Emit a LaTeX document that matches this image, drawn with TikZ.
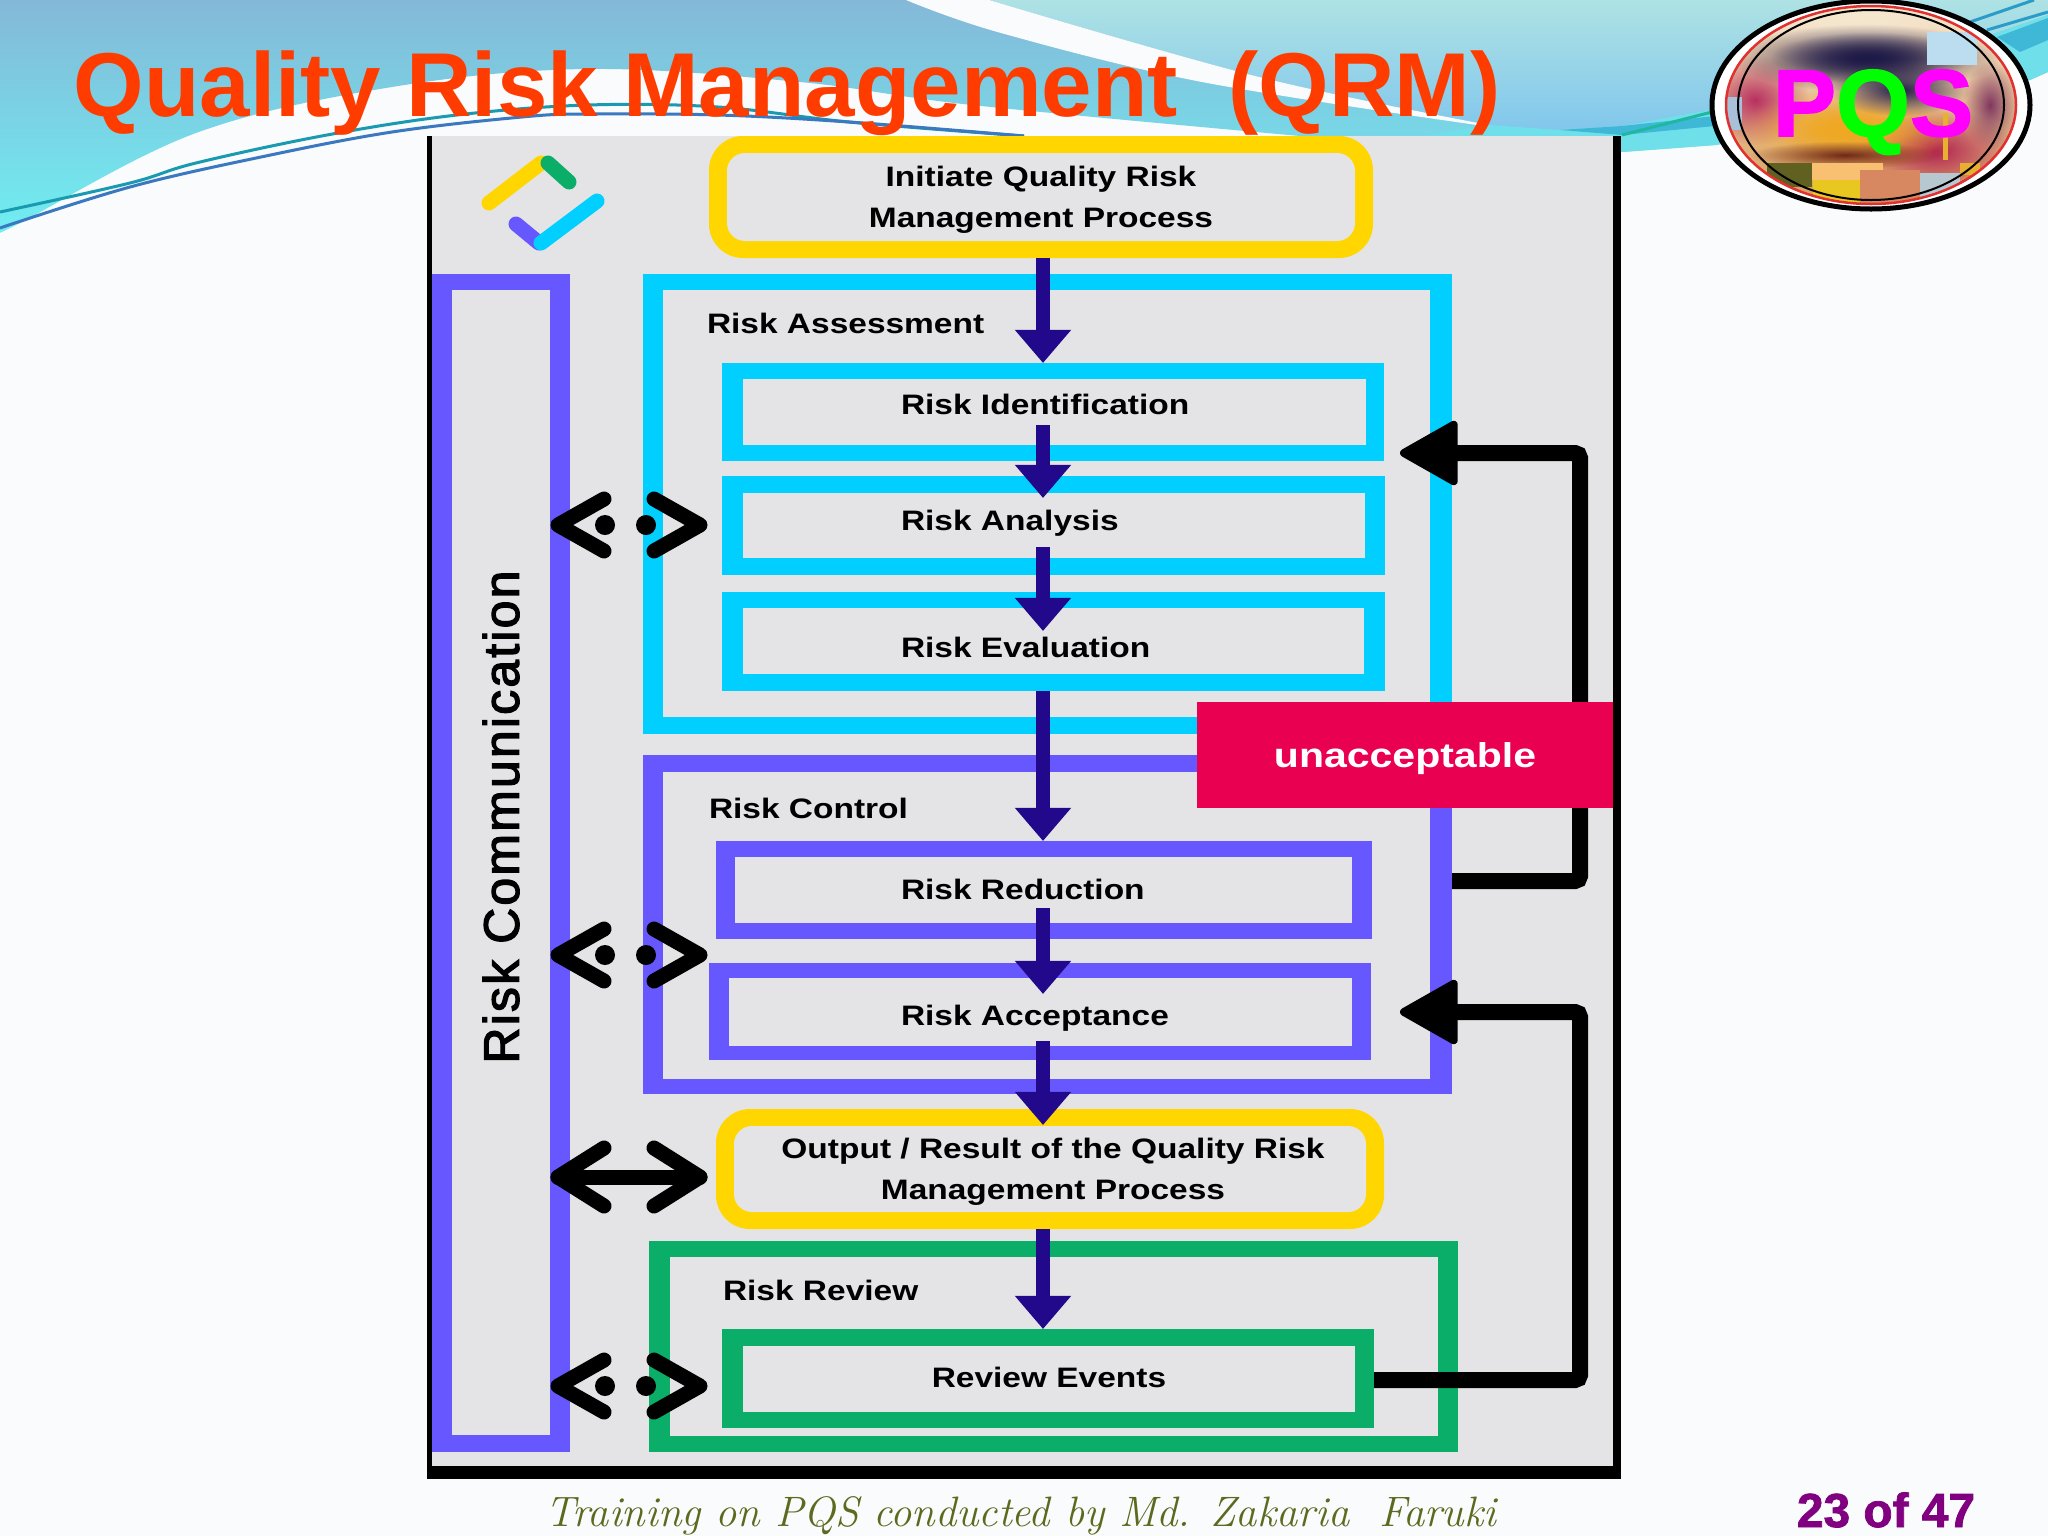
\documentclass[tikz,border=0pt]{standalone}
\usepackage{fontspec}
\usetikzlibrary{arrows.meta,calc,fadings}
\newfontfamily\arialish{Liberation Sans}
\newfontfamily\heavyfont[FakeBold=1.6]{Liberation Sans}
\newfontfamily\commfont[FakeBold=2.5,LetterSpace=4.4]{Liberation Sans}
\newfontfamily\lblfont[FakeStretch=1.19]{Liberation Sans}
\definecolor{qpurple}{HTML}{6658FE}
\definecolor{qblue}{HTML}{00CFFF}
\definecolor{qgreen}{HTML}{0AAE68}
\definecolor{qyellow}{HTML}{FFD600}
\definecolor{qred}{HTML}{EA0050}
\definecolor{qgray}{HTML}{E4E4E6}
\definecolor{qindigo}{HTML}{22098C}
\definecolor{qtitle}{HTML}{FF3C00}
\definecolor{qpage}{HTML}{F9FBFC}
\newcommand\hx[1]{\definecolor{x#1}{HTML}{#1}}
\hx{84B8D8}\hx{6FF0F2}\hx{AEE2E4}\hx{80C6EC}\hx{6FE0EA}\hx{3FB8D8}\hx{1FB89E}\hx{2A9CC8}\hx{1A9AB0}\hx{3A78C0}
\hx{F7E6D0}\hx{B04A68}\hx{D89A58}\hx{F5E8D0}\hx{B02050}\hx{B83060}\hx{F0A820}\hx{702818}\hx{1E1A48}\hx{803860}
\hx{BCDCF0}\hx{A8C0D8}\hx{606020}\hx{F8C070}\hx{E8C820}\hx{D88860}\hx{B8C8D0}\hx{E8B030}\hx{E03030}\hx{5A6B1F}\hx{800080}
\tikzfading[name=softblob, inner color=transparent!0, outer color=transparent!100]
\tikzset{
  frame/.style={rectangle,inner sep=0pt,outer sep=0pt,anchor=center},
  lbl/.style={inner sep=0pt,outer sep=0pt,text=black,font=\lblfont\bfseries\fontsize{8}{11.7}\selectfont,align=center},
  lblw/.style={lbl,anchor=west},
  flow/.style={draw=qindigo,line width=0.14cm,-{Triangle[length=0.33cm,width=0.54cm]}},
  feedback/.style={draw=black,line width=0.16cm,rounded corners=0.05cm,-{Triangle[round,line width=0.08cm,length=0.62cm,width=0.68cm]}},
  chev/.style={draw=black,line width=0.15cm,line cap=round,line join=round},
  blob/.style={path fading=softblob},
  logoline/.style={line width=0.15cm,line cap=round}
}
% name, colour, outer x1 y1 x2 y2, then inner x1 y1 x2 y2
\newcommand\qbox[6]{%
  \node[frame,fill=#2,minimum width={(#5-#3)*0.01cm},minimum height={(#6-#4)*0.01cm}] (#1) at ({(#3+#5)/2},{(#4+#6)/2}) {};%
  \qinner{#1}}
\newcommand\qinner[5]{%
  \node[frame,fill=qgray,minimum width={(#4-#2)*0.01cm},minimum height={(#5-#3)*0.01cm}] (#1in) at ({(#2+#4)/2},{(#3+#5)/2}) {};}
\newcommand\qround[5]{%
  \node[frame,fill=qyellow,rounded corners=0.34cm,minimum width={(#4-#2)*0.01cm},minimum height={(#5-#3)*0.01cm}] (#1) at ({(#2+#4)/2},{(#3+#5)/2}) {};%
  \node[frame,fill=qgray,rounded corners=0.18cm,minimum width={(#4-#2-36)*0.01cm},minimum height={(#5-#3-34)*0.01cm}] (#1in) at ({(#2+#4)/2},{(#3+#5)/2}) {};}
\newcommand\chevs[3]{%
  \draw[chev] ($(#1)+(46,-#3)$) -- (#1) -- ($(#1)+(46,#3)$);%
  \draw[chev] ($(#2)+(-46,-#3)$) -- (#2) -- ($(#2)+(-46,#3)$);}
\newcommand\commlink[2]{%
  \coordinate (#1l) at (558,#2);\coordinate (#1r) at (700,#2);%
  \chevs{#1l}{#1r}{26}%
  \fill[black] ($(#1l)+(47,0)$) circle[radius=10];%
  \fill[black] ($(#1r)+(-54,0)$) circle[radius=10];}
\begin{document}
\begin{tikzpicture}[x=0.01cm,y=-0.01cm]
\useasboundingbox (0,0) rectangle (2048,1536);
\fill[qpage] (0,0) rectangle (2048,1536);
% banner
\shade[top color=x84B8D8,bottom color=x6FF0F2]
  (0,0) -- (2048,0) -- (2048,72) -- (2030,80) -- (1716,145) -- (1622,152) -- (1400,140) -- (1300,136)
  -- plot[smooth,tension=.6] coordinates {(1300,136) (972,105) (800,82) (588,69) (392,87) (196,133) (20,223) (0,232)} -- cycle;
% light part right of the swoosh
\shade[top color=xAEE2E4,bottom color=x80C6EC]
  (989,0) -- plot[smooth,tension=.6] coordinates {(989,0) (1259,77) (1489,125) (1560,130) (1622,126) (1710,110)} -- (1990,35) -- (2048,15) -- (2048,0) -- cycle;
% cyan underside
\fill[x6FE0EA] (1489,125) -- (1560,130) -- (1622,126) -- (1710,110) -- (1990,35) -- (2048,15) -- (2048,72) -- (2030,80) -- (1716,145) -- (1622,152) -- (1400,140) -- cycle;
\fill[x3FB8D8] (1997,37) -- (2048,18) -- (2048,40) -- (2020,52) -- cycle;
\fill[x3FB8D8] (1560,130) -- (1622,126) -- (1715,116) -- (1715,126) -- (1622,135) -- cycle;
\draw[x1FB89E,line width=0.03cm] (1622,135) -- (1712,112);
\draw[x2A9CC8,line width=0.03cm] (1970,22) -- (2034,0);
\draw[x2A9CC8,line width=0.03cm] (1987,30) -- (2048,12);
% white swoosh
\fill[qpage] plot[smooth,tension=.6] coordinates {(906,0) (1001,33) (1202,82) (1477,125)} -- (1489,125)
  -- plot[smooth,tension=.6] coordinates {(1489,125) (1259,77) (989,0)} -- cycle;
% thin curves
\draw[x1A9AB0,line width=0.03cm] plot[smooth,tension=.6] coordinates {(0,212) (130,183) (196,163) (327,135) (457,115) (588,105) (718,107) (849,122) (1024,136)};
\draw[x3A78C0,line width=0.03cm] plot[smooth,tension=.6] coordinates {(0,228) (130,187) (261,157) (392,132) (522,117) (588,114) (718,115) (849,122) (1024,136)};
% title
\node[anchor=base west,inner sep=0pt,text=qtitle,font=\arialish\bfseries\fontsize{25.8}{30}\selectfont] (title) at (73,116) {Quality Risk Management\ \ (QRM)};
% panel
\node[frame,fill=black,minimum width={(1621-427)*0.01cm},minimum height={(1479-136)*0.01cm}] (panel) at ({(427+1621)/2},{(136+1479)/2}) {};
\node[frame,fill=qgray,minimum width={(1613-432)*0.01cm},minimum height={(1466-136)*0.01cm}] (panelin) at ({(432+1613)/2},{(136+1466)/2}) {};
% logo mark
\draw[logoline,qyellow] (541,163) -- (489,203);
\draw[logoline,qgreen] (548,163) -- (569,182);
\draw[logoline,qpurple] (516,224) -- (539,243);
\draw[logoline,qblue] (597,201) -- (541,243);
% boxes
\qbox{comm}{qpurple}{432}{274}{570}{1452}{452}{290}{550}{1435}
\qbox{assess}{qblue}{643}{274}{1452}{734}{663}{290}{1430}{717}
\qbox{ident}{qblue}{722}{363}{1384}{461}{743}{379}{1366}{445}
\qbox{analysis}{qblue}{722}{476}{1385}{575}{743}{493}{1365}{558}
\qbox{evaluation}{qblue}{722}{592}{1385}{691}{743}{608}{1364}{674}
\qbox{control}{qpurple}{643}{755}{1452}{1094}{663}{772}{1430}{1079}
\qbox{reduction}{qpurple}{716}{841}{1372}{939}{735}{857}{1352}{923}
\qbox{acceptance}{qpurple}{709}{963}{1371}{1060}{729}{978}{1352}{1046}
\qbox{review}{qgreen}{649}{1241}{1458}{1452}{670}{1257}{1438}{1436}
\qbox{events}{qgreen}{722}{1329}{1374}{1428}{743}{1346}{1355}{1412}
\qround{init}{709}{136}{1373}{258}
\qround{output}{716}{1109}{1384}{1229}
% labels
\node[lbl] (linit) at (1041,200) {Initiate Quality Risk\\Management Process};
\node[lblw] (lassess) at (707,323) {Risk Assessment};
\node[lblw] (lident) at (901,404) {Risk Identification};
\node[lblw] (lanalysis) at (901,523) {Risk Analysis};
\node[lblw] (leval) at (901,647) {Risk Evaluation};
\node[lblw] (lcontrol) at (709,808) {Risk Control};
\node[lblw] (lreduction) at (901,889) {Risk Reduction};
\node[lblw] (laccept) at (901,1018) {Risk Acceptance};
\node[lbl] (loutput) at (1053,1172) {Output / Result of the Quality Risk\\Management Process};
\node[lblw] (lreview) at (723,1290) {Risk Review};
\node[lbl] (levents) at (1049,1377) {Review Events};
\node[rotate=90,inner sep=0pt,font=\commfont\fontsize{14.2}{17}\selectfont] (lcomm) at (501,817) {Risk Communication};
% flow
\coordinate (spine) at (1043,700);
\draw[flow] (init.south -| spine) -- (ident.north -| spine);
\draw[flow] ($(ident.south -| spine)+(0,-36)$) -- ($(analysis.north -| spine)+(0,22)$);
\draw[flow] ($(analysis.south -| spine)+(0,-28)$) -- ($(evaluation.north -| spine)+(0,39)$);
\draw[flow] (evaluation.south -| spine) -- (reduction.north -| spine);
\draw[flow] ($(reduction.south -| spine)+(0,-31)$) -- ($(acceptance.north -| spine)+(0,31)$);
\draw[flow] ($(acceptance.south -| spine)+(0,-19)$) -- ($(output.north -| spine)+(0,16)$);
\draw[flow] (output.south -| spine) -- (events.north -| spine);
% feedback
\coordinate (fbout1) at (1452,881);\coordinate (fbup1) at (1580,881);\coordinate (fbin1) at (1400,453);
\coordinate (fbout2) at (1374,1380);\coordinate (fbup2) at (1580,1380);\coordinate (fbin2) at (1400,1012);
\draw[feedback] (fbout1) -- (fbup1) |- (fbin1);
\draw[feedback] (fbout2) -- (fbup2) |- (fbin2);
% unacceptable
\node[frame,fill=qred,minimum width={(1613-1197)*0.01cm},minimum height={(808-702)*0.01cm}] (unacc) at ({(1197+1613)/2},{(702+808)/2}) {};
\node[inner sep=0pt,text=white,font=\lblfont\bfseries\fontsize{9.8}{12}\selectfont] (lunacc) at (1405,759) {unacceptable};
% communication links
\commlink{cl1}{525}
\commlink{cl2}{955}
\commlink{cl4}{1386}
\coordinate (cl3l) at (558,1177);\coordinate (cl3r) at (700,1177);
\chevs{cl3l}{cl3r}{29}
\draw[chev] (cl3l) -- (cl3r);
% PQS logo
\coordinate (lc) at (1871,105);
\fill[white,draw=black,line width=0.05cm] (lc) ellipse[x radius=159,y radius=104];
\begin{scope}
  \clip (lc) ellipse[x radius=145,y radius=99];
  \shade[top color=xF7E6D0,middle color=xB04A68,bottom color=xD89A58] (1720,0) rectangle (2025,210);
  \fill[blob,xF5E8D0] (1850,18) ellipse[x radius=130,y radius=30];
  \fill[blob,xB02050] (1935,150) ellipse[x radius=80,y radius=42];
  \fill[blob,xB83060] (1755,100) ellipse[x radius=55,y radius=45];
  \fill[blob,x803860] (1990,105) ellipse[x radius=28,y radius=45];
  \fill[blob,xF0A820] (1850,130) ellipse[x radius=110,y radius=42];
  \fill[blob,xF0A820] (1845,128) ellipse[x radius=75,y radius=26];
  \fill[blob,x702818] (1845,155) ellipse[x radius=95,y radius=14];
  \fill[blob,x1E1A48] (1865,58) ellipse[x radius=135,y radius=34];
  \fill[blob,x1E1A48] (1870,58) ellipse[x radius=100,y radius=26];
  \fill[blob,x1E1A48] (1900,90) ellipse[x radius=70,y radius=26];
  \fill[xBCDCF0] (1927,32) rectangle (1977,65);
  \fill[xA8C0D8] (1727,97) rectangle (1742,130);
  \fill[x606020] (1767,163) rectangle (1812,187);
  \fill[xF8C070] (1812,163) rectangle (1883,180);
  \fill[xE8C820] (1813,180) rectangle (1860,205);
  \fill[xD88860] (1860,170) rectangle (1920,205);
  \fill[xB8C8D0] (1920,173) rectangle (1960,197);
  \fill[xE8B030] (1960,163) rectangle (1980,175);
  \fill[xE8B030] (1943,113) rectangle (1948,160);
\end{scope}
\draw[xE03030,line width=0.025cm] (lc) ellipse[x radius=145,y radius=99];
\draw[black,line width=0.02cm] (lc) ellipse[x radius=133,y radius=95];
\node[anchor=base,inner sep=0pt,font=\heavyfont\bfseries\fontsize{27}{30}\selectfont] (pqs) at (1873,136) {\textcolor[HTML]{FF00FF}{P}\textcolor[HTML]{00FF00}{Q}\textcolor[HTML]{FF00FF}{S}};
% footer
\node[anchor=base,inner sep=0pt,text=x5A6B1F,font=\itshape\fontsize{12.1}{14}\selectfont] (footer) at (1021,1526) {Training on PQS conducted by Md. Zakaria\ \ Faruki};
\node[anchor=base,inner sep=0pt,text=x800080,font=\heavyfont\bfseries\fontsize{13.6}{16}\selectfont] (pageno) at (1886,1527) {23 of 47};
\end{tikzpicture}
\end{document}
